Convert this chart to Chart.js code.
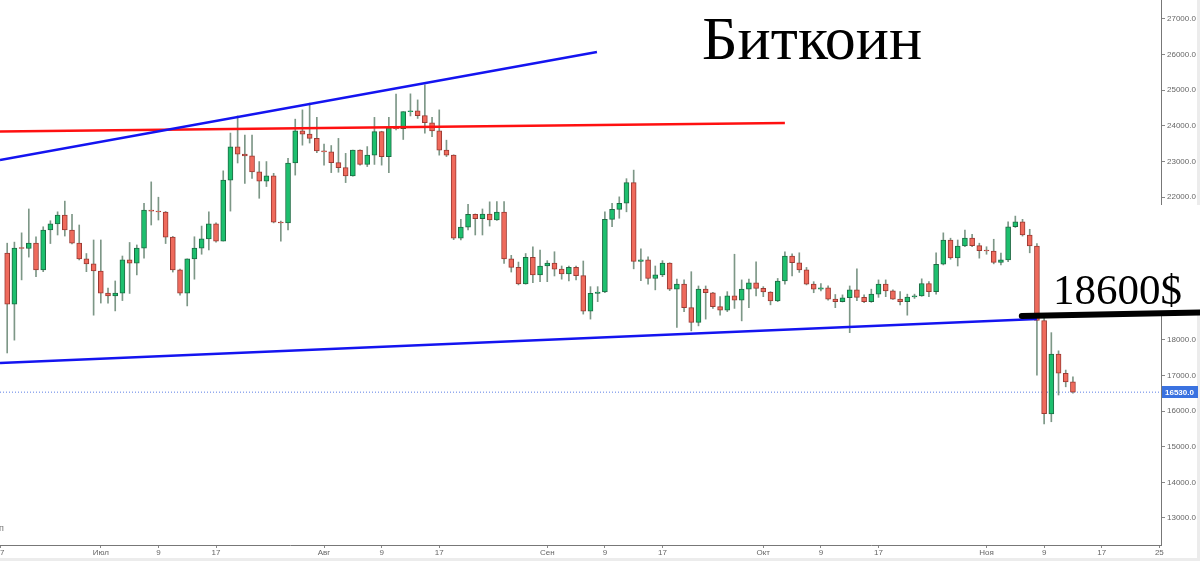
<!DOCTYPE html>
<html>
<head>
<meta charset="utf-8">
<title>Биткоин</title>
<script src="https://cdn.jsdelivr.net/npm/chart.js@4.4.1/dist/chart.umd.min.js"></script>
<style>
  html, body { margin: 0; padding: 0; background: #fff; }
  #chart { display: block; }
</style>
</head>
<body>
<canvas id="chart" width="1200" height="561"></canvas>
<script>
// ---------------- Data (BTC daily, 18 Jun - 13 Nov) ----------------
const firstDate = "2022-06-18";

const opens = [
    20430, 19000, 20590, 20560, 20710, 19960, 21080, 21250, 21500, 21080, 20710, 20270, 20130,
    19930, 19310, 19230, 19310, 20240, 20150, 20570, 21640, 21610, 21585, 20880, 19960, 19310, 20270, 20570, 20830,
    21250, 20770, 22480, 23410, 23210, 23160, 22710, 22450, 22600, 21300, 21280, 22960, 23860, 23770, 23650,
    23300, 23270, 22970, 22830, 22600, 23320, 22920, 23180, 23840, 23140, 23950, 23920, 24400, 24420, 24290,
    24090, 23860, 23320, 23180, 20850, 21160, 21520, 21400, 21530, 21360, 21580, 20270, 20030, 19570, 20310, 19820,
    20070, 20150, 19980, 19850, 20030, 19800, 18800, 19300, 19340, 21380, 21660, 21830, 22410, 20200, 20240,
    19720, 19820, 20150, 19420, 19560, 18900, 18490, 19420, 19320, 18930, 18830, 19230, 19110, 19420, 19600,
    19440, 19340, 19090, 19650, 20350, 20160, 19960, 19560, 19420, 19460, 19140, 19070, 19180, 19400, 19190,
    19070, 19280, 19560, 19370, 19140, 19070, 19200, 19230, 19580, 19350, 20120, 20800, 20300, 20630, 20850, 20640,
    20520, 20490, 20170, 20240, 21170, 21310, 20940, 20630, 18540, 15920, 17600, 17060, 16820
];
const highs = [
    20710, 20740, 21000, 21670, 20890, 21170, 21340, 21590, 21890, 21520, 21220, 20420, 20800,
    20800, 19450, 19650, 20350, 20730, 20660, 21830, 22430, 22000, 21600, 20900, 19980, 20270, 20890, 21190, 21590,
    21280, 22740, 23800, 24280, 23740, 23740, 23000, 23000, 22670, 21330, 23090, 24190, 24450, 24640, 24240,
    23490, 23450, 23650, 23230, 23320, 23330, 23420, 24240, 23850, 24240, 24890, 24400, 24900, 24730, 25150,
    24240, 24450, 23600, 23190, 21380, 21800, 21530, 21670, 21870, 21880, 21880, 20370, 20180, 20420, 20610, 20520,
    20220, 20470, 20070, 20070, 20070, 20210, 19490, 19490, 21590, 21830, 22010, 22520, 22760, 20550, 20330,
    20070, 20220, 20160, 19700, 19680, 19910, 19510, 19510, 19330, 19210, 19350, 20400, 19680, 19700, 20190,
    19490, 19350, 19720, 20470, 20410, 20440, 20030, 19630, 19580, 19510, 19270, 19260, 19510, 19990, 19260,
    19420, 19680, 19680, 19400, 19350, 19280, 19280, 19710, 19630, 20440, 21000, 20850, 20800, 21080, 20960, 20710,
    20610, 20820, 20430, 21310, 21470, 21380, 21100, 20700, 18600, 18200, 17690, 17150, 16960
];
const lows = [
    17630, 17990, 19680, 20320, 19770, 19910, 20700, 20940, 20910, 20690, 20240, 19910, 18690,
    19030, 19030, 18810, 19100, 19300, 19820, 20290, 21220, 21360, 20700, 19900, 19250, 18950, 19700, 20400, 20520,
    20740, 20770, 21610, 22960, 22390, 22530, 21970, 22300, 21280, 20770, 21080, 22620, 23460, 23520, 23250,
    22900, 22690, 22700, 22410, 22590, 22900, 22860, 22920, 22900, 22690, 23890, 23620, 24280, 24210, 23800,
    23700, 23180, 23140, 20810, 20800, 21080, 20940, 20940, 21190, 21350, 20140, 19900, 19540, 19560, 19600, 19630,
    19630, 19790, 19700, 19650, 19680, 18720, 18580, 19070, 19320, 21170, 21410, 21590, 19990, 19660, 19560,
    19400, 19770, 19380, 18350, 18790, 18250, 18390, 18580, 18880, 18690, 18790, 18880, 18530, 18900, 19230,
    19210, 18980, 19070, 19560, 19790, 19890, 19540, 19320, 19370, 19110, 18900, 19060, 18200, 19100, 19040,
    19050, 19190, 19210, 19130, 18980, 18690, 19160, 19220, 19210, 19280, 20100, 20260, 20070, 20610, 20610, 20290,
    20400, 20130, 20100, 20190, 21150, 20910, 20440, 17010, 15640, 15700, 16450, 16680, 16500
];
const closes = [
    19000, 20570, 20560, 20710, 19960, 21080, 21250, 21500, 21080, 20710, 20270, 20130, 19930,
    19310, 19230, 19310, 20240, 20150, 20570, 21640, 21610, 21585, 20880, 19960, 19310, 20270, 20570, 20830, 21250,
    20770, 22480, 23410, 23210, 23160, 22710, 22450, 22600, 21300, 21280, 22960, 23860, 23770, 23650, 23300,
    23270, 22970, 22830, 22600, 23320, 22920, 23180, 23840, 23140, 23950, 23920, 24400, 24420, 24290, 24090,
    23860, 23320, 23180, 20850, 21160, 21520, 21400, 21530, 21360, 21580, 20270, 20030, 19570, 20310, 19820, 20070,
    20150, 19980, 19850, 20030, 19800, 18800, 19300, 19340, 21380, 21660, 21830, 22410, 20200, 20240, 19720,
    19820, 20150, 19420, 19560, 18900, 18490, 19420, 19320, 18930, 18830, 19230, 19110, 19420, 19600, 19440,
    19340, 19090, 19650, 20350, 20160, 19960, 19560, 19420, 19460, 19140, 19070, 19180, 19400, 19190, 19070,
    19280, 19560, 19370, 19140, 19070, 19200, 19230, 19580, 19350, 20120, 20800, 20300, 20630, 20850, 20640, 20500,
    20490, 20170, 20240, 21170, 21310, 20940, 20630, 18540, 15930, 17600, 17060, 16820, 16530
];

// x axis: days counted from 1 July
const xTickDays   = [-14, 0, 8, 16, 31, 39, 47, 62, 70, 78, 92, 100, 108, 123, 131, 139, 147];
const xTickLabels = ["17", "Июл", "9", "17", "Авг", "9", "17", "Сен", "9", "17", "Окт", "9", "17", "Ноя", "9", "17", "25"];
const yTicks = [13000, 14000, 15000, 16000, 17000, 18000, 19000, 20000, 21000, 22000, 23000, 24000, 25000, 26000, 27000];

const lastPrice = 16530;

// drawn trend lines: [day, price] end points
const upperBlue = [[-14, 23043], [68.9, 26074]];
const redLine   = [[-14, 23843], [95.0, 24082]];
const lowerBlue = [[-14, 17347], [130.0, 18582]];
const blackLine = [[127.9, 18666], [152.6, 18763]];

// ---------------- Build ----------------
const dayMs = 86400000;
const july1 = Date.UTC(2022, 6, 1);
const startDay = (Date.parse(firstDate) - july1) / dayMs;
const days = opens.map((o, i) => startDay + i);

const UP = "#1dbf6e", UP_BORDER = "#1d6b43";
const DOWN = "#ef6a5c", DOWN_BORDER = "#9b3a33";
const WICK = "#7d9787";

const isUp = opens.map((o, i) => closes[i] >= o);

function toPoints(arr) {
    return arr.map(p => ({ x: p[0], y: p[1] }));
}

const overlayPlugin = {
    id: "overlay",
    beforeDraw(chart) {
        const c = chart.ctx;
        c.save();
        c.fillStyle = "#ffffff";
        c.fillRect(0, 0, chart.width, chart.height);
        c.fillStyle = "#ececec";
        c.fillRect(1197, 0, 3, chart.height);
        c.fillRect(0, 558, chart.width, 3);
        c.restore();
    },
    beforeDatasetsDraw(chart) {
        // white patch behind the "18600$" note
        const c = chart.ctx;
        c.save();
        c.fillStyle = "#ffffff";
        c.fillRect(1045, 205, 155, 109);
        c.restore();
    },
    afterDraw(chart) {
        const c = chart.ctx;
        const y = chart.scales.y.getPixelForValue(lastPrice);
        const right = chart.chartArea.right;
        c.save();
        c.fillStyle = "#3a72e0";
        c.fillRect(right + 1, Math.round(y) - 6, 36, 12);
        c.fillStyle = "#ffffff";
        c.font = "bold 8px 'Liberation Sans', Arial, sans-serif";
        c.textBaseline = "middle";
        c.fillText(lastPrice.toFixed(1), right + 4, Math.round(y) + 0.5);

        c.fillStyle = "#000000";
        c.textBaseline = "alphabetic";
        c.font = "62px 'Liberation Serif', 'Times New Roman', serif";
        c.fillText("Биткоин", 702, 59);
        c.font = "43px 'Liberation Serif', 'Times New Roman', serif";
        c.fillText("18600$", 1053, 304);

        c.fillStyle = "#777";
        c.font = "9px 'Liberation Sans', Arial, sans-serif";
        c.fillText("п", -1, 531);
        c.restore();
    }
};

const ctx = document.getElementById("chart").getContext("2d");
new Chart(ctx, {
    data: {
        datasets: [
            {
                type: "line",
                data: toPoints(blackLine),
                borderColor: "#000000",
                borderWidth: 6,
                borderCapStyle: "round",
                pointRadius: 0,
                clip: false,
                order: 0
            },
            {
                type: "line",
                data: toPoints(upperBlue),
                borderColor: "#1414f0",
                borderWidth: 2.5,
                pointRadius: 0,
                order: 1
            },
            {
                type: "line",
                data: toPoints(redLine),
                borderColor: "#ff1010",
                borderWidth: 2.5,
                pointRadius: 0,
                order: 1
            },
            {
                type: "line",
                data: toPoints(lowerBlue),
                borderColor: "#1414f0",
                borderWidth: 2.5,
                pointRadius: 0,
                order: 1
            },
            {
                type: "bar",
                data: days.map((d, i) => ({ x: d, y: [opens[i], closes[i]] })),
                backgroundColor: isUp.map(u => u ? UP : DOWN),
                borderColor: isUp.map(u => u ? UP_BORDER : DOWN_BORDER),
                borderWidth: 1,
                borderSkipped: false,
                barThickness: 5,
                grouped: false,
                order: 2
            },
            {
                type: "bar",
                data: days.map((d, i) => ({ x: d, y: [lows[i], highs[i]] })),
                backgroundColor: WICK,
                barThickness: 1,
                grouped: false,
                order: 3
            },
            {
                type: "line",
                data: [{ x: -14, y: lastPrice }, { x: 147.23, y: lastPrice }],
                borderColor: "#5b7fe6",
                borderWidth: 1,
                borderDash: [1, 2],
                pointRadius: 0,
                order: 4
            }
        ]
    },
    options: {
        responsive: false,
        animation: false,
        devicePixelRatio: 1,
        layout: { padding: 0 },
        plugins: {
            legend: { display: false },
            tooltip: { enabled: false }
        },
        scales: {
            x: {
                type: "linear",
                min: -14,
                max: 147.23,
                offset: false,
                afterBuildTicks: (axis) => { axis.ticks = xTickDays.map(v => ({ value: v })); },
                afterFit: (axis) => {
                    axis.height = 16;
                    axis.paddingLeft = 0;
                    axis.paddingRight = 0;
                },
                grid: { drawOnChartArea: false, offset: false, tickLength: 3, color: "#888" },
                border: { color: "#777" },
                ticks: {
                    autoSkip: false,
                    maxRotation: 0,
                    padding: 0,
                    color: "#666",
                    font: { size: 8, family: "'Liberation Sans', Arial, sans-serif" },
                    callback: (v) => {
                        const i = xTickDays.indexOf(v);
                        return i >= 0 ? xTickLabels[i] : "";
                    }
                }
            },
            y: {
                position: "right",
                min: 12242,
                max: 27533,
                afterBuildTicks: (axis) => { axis.ticks = yTicks.map(v => ({ value: v })); },
                afterFit: (axis) => {
                    axis.width = 39;
                    axis.paddingTop = 0;
                    axis.paddingBottom = 0;
                },
                grid: { drawOnChartArea: false, tickLength: 4, color: "#888" },
                border: { color: "#777" },
                ticks: {
                    padding: 2,
                    color: "#666",
                    font: { size: 8, family: "'Liberation Sans', Arial, sans-serif" },
                    callback: (v) => Number(v).toFixed(1)
                }
            }
        }
    },
    plugins: [overlayPlugin]
});
</script>
</body>
</html>
